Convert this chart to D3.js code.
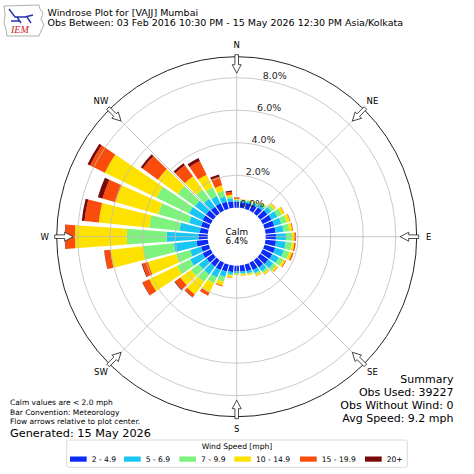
<!DOCTYPE html>
<html>
<head>
<meta charset="utf-8">
<title></title>
<script src="https://cdn.jsdelivr.net/npm/d3@7"></script>
<style>
body{margin:0;background:#fff;}
text{font-family:"DejaVu Sans",sans-serif;fill:#000;}
</style>
</head>
<body>
<script>
// direction bins (degrees, meteorological convention)
const directions=[0,10,20,30,40,50,60,70,80,90,100,110,120,130,140,150,160,170,
  180,190,200,210,220,230,240,250,260,270,280,290,300,310,320,330,340,350];
const speedBins=['2 - 4.9','5 - 6.9','7 - 9.9','10 - 14.9','15 - 19.9','20+'];
const binColors=['#0b2af5','#19c6f3','#7df27d','#fde200','#fa4c0a','#7a0a0a'];

// percent frequency per direction, one array per speed bin
const s2=[.35,.35,.38,.40,.45,.55,.60,.62,.62,.63,.65,.68,.65,.62,.55,.50,.42,.38,.35,.40,.45,.50,.50,.50,.55,.50,.70,.57,.50,.50,.55,.55,.50,.50,.45,.40];
const s5=[.10,.10,.12,.14,.20,.30,.40,.45,.50,.62,.60,.55,.45,.38,.30,.22,.15,.12,.10,.15,.35,.50,.60,.60,.85,.70,1.40,1.95,1.25,.77,.93,.85,.60,.50,.35,.20];
const s7=[.05,.05,.06,.07,.12,.20,.30,.35,.35,.37,.38,.35,.30,.22,.15,.10,.06,.05,.05,.10,.30,.40,.55,.60,.90,.90,1.90,2.46,1.88,1.97,2.22,1.30,.70,.60,.35,.12];
const s10=[.04,.03,.03,.04,.06,.12,.17,.20,.18,.15,.15,.18,.15,.12,.10,.10,.08,.08,.06,.12,.25,.65,.95,.80,1.90,1.80,2.03,3.19,3.12,2.73,3.54,1.50,1.00,.86,.35,.10];
const s15=[.08,.02,.01,0,.01,.02,.03,.04,.05,.09,.08,.08,.05,.03,.02,.02,.01,.01,.01,.02,.05,.20,.20,.40,.45,.35,.37,.60,.88,.83,1.01,1.15,.85,.94,.55,.18];
const s20=[.02,0,0,0,0,0,0,0,0,.01,.01,.01,0,0,0,0,0,0,0,0,0,.01,.03,.05,.03,.05,.02,.03,.17,.30,.17,.15,.15,.20,.15,.08];

const rTicks=[0,2,4,6,8];
const compass=['N','NE','E','SE','S','SW','W','NW'];
const compassDeg=[0,45,90,135,180,225,270,315];
const calmPct='6.4%';

const W=474,H=474;
const cx=236.7,cy=236.7;
const svg=d3.select('body').append('svg').attr('width',W).attr('height',H);

// radial scale: 0% sits on the calm circle
const r=d3.scaleLinear().domain([0,8]).range([29,159]);
const rOuter=180;
const rad=a=>a*Math.PI/180;

// table for stacking
const series=[s2,s5,s7,s10,s15,s20];
const table=directions.map((d,i)=>{
  let row={dir:d};
  speedBins.forEach((b,j)=>row[b]=series[j][i]);
  return row;
});
const stack=d3.stack().keys(speedBins);
const stacked=stack(table);

const g=svg.append('g').attr('transform',`translate(${cx},${cy})`);

// bars
const arc=d3.arc();
const half=4.1;
stacked.forEach((layer,j)=>{
  g.append('g').selectAll('path').data(layer).enter().append('path')
    .attr('d',d=>arc({innerRadius:r(d[0]),outerRadius:r(d[1]),
      startAngle:rad(d.data.dir-half),endAngle:rad(d.data.dir+half)}))
    .attr('fill',binColors[j]);
});

// grid rings (drawn over bars)
g.append('g').selectAll('circle').data(rTicks.slice(1)).enter().append('circle')
  .attr('r',d=>r(d)).attr('fill','none').attr('stroke','#bcbcbc').attr('stroke-width',0.8);

// spokes
g.append('g').selectAll('line').data(compassDeg).enter().append('line')
  .attr('x1',d=>r(0)*Math.sin(rad(d))).attr('y1',d=>-r(0)*Math.cos(rad(d)))
  .attr('x2',d=>rOuter*Math.sin(rad(d))).attr('y2',d=>-rOuter*Math.cos(rad(d)))
  .attr('stroke','#bcbcbc').attr('stroke-width',0.8);

// outer frame
g.append('circle').attr('r',rOuter).attr('fill','none').attr('stroke','#222').attr('stroke-width',1);

// radial labels
g.append('g').selectAll('text').data(rTicks).enter().append('text')
  .attr('x',d=>r(d)*Math.sin(rad(10))+10.5)
  .attr('y',d=>-r(d)*Math.cos(rad(10))-4.5)
  .attr('text-anchor','middle').attr('dominant-baseline','central')
  .style('font-size','9.5px').style('fill','#222')
  .text(d=>d.toFixed(1)+'%');

// flow arrows
const arrow='M-1.8,-182L1.8,-182L1.8,-172L4.5,-172L0,-163.5L-4.5,-172L-1.8,-172Z';
g.append('g').selectAll('path').data(compassDeg).enter().append('path')
  .attr('d',arrow).attr('transform',d=>`rotate(${d})`)
  .attr('fill','#fff').attr('stroke','#222').attr('stroke-width',0.8);

// compass labels
g.append('g').selectAll('text').data(compass).enter().append('text')
  .attr('x',(d,i)=>192*Math.sin(rad(compassDeg[i])))
  .attr('y',(d,i)=>-192*Math.cos(rad(compassDeg[i])))
  .attr('text-anchor','middle').attr('dominant-baseline','central')
  .style('font-size','8.5px').text(d=>d);

// calm
g.append('text').attr('y',-5).attr('text-anchor','middle').attr('dominant-baseline','central')
  .style('font-size','8.8px').text('Calm');
g.append('text').attr('y',4.2).attr('text-anchor','middle').attr('dominant-baseline','central')
  .style('font-size','8.8px').text(calmPct);

// title
svg.append('text').attr('x',47.5).attr('y',15.5).style('font-size','9.5px').text('Windrose Plot for [VAJJ] Mumbai');
svg.append('text').attr('x',47.5).attr('y',25.5).style('font-size','9.5px')
  .text('Obs Between: 03 Feb 2016 10:30 PM - 15 May 2026 12:30 PM Asia/Kolkata');

// logo
const logo=svg.append('g').attr('transform','translate(3,3)');
logo.append('path').attr('d','M1,3L36,2L37,6L40,10L38,16L41,22L38,28L36,33L4,33L3,26L1,20L2,12Z')
  .attr('fill','#fff').attr('stroke','#999').attr('stroke-width',0.8);
logo.append('path').attr('d','M6,6L12,14L22,14L30,12M14,14L18,20M24,14L28,20M8,18L16,18')
  .attr('fill','none').attr('stroke','#2233aa').attr('stroke-width',1.4);
logo.append('text').attr('x',8).attr('y',30).style('font-family','"Liberation Serif",serif')
  .style('font-style','italic').style('font-size','10px').style('fill','#cc2222').text('IEM');

// notes
const notes=['Calm values are < 2.0 mph','Bar Convention: Meteorology','Flow arrows relative to plot center.'];
svg.append('g').selectAll('text').data(notes).enter().append('text')
  .attr('x',10).attr('y',(d,i)=>405+i*9.5).style('font-size','7.5px').text(d=>d);
svg.append('text').attr('x',10).attr('y',436.5).style('font-size','11.3px').text('Generated: 15 May 2026');

// summary
const summary=['Summary','Obs Used: 39227','Obs Without Wind: 0','Avg Speed: 9.2 mph'];
svg.append('g').selectAll('text').data(summary).enter().append('text')
  .attr('x',453.5).attr('y',(d,i)=>383+i*12.9).attr('text-anchor','end')
  .style('font-size','11px').text(d=>d);

// legend
const lg=svg.append('g');
lg.append('rect').attr('x',66.7).attr('y',440).attr('width',340.6).attr('height',27.3).attr('rx',2)
  .attr('fill','#fff').attr('stroke','#d0d0d0').attr('stroke-width',0.8);
lg.append('text').attr('x',237).attr('y',446.5).attr('text-anchor','middle').attr('dominant-baseline','central')
  .style('font-size','7.6px').text('Wind Speed [mph]');
const patchX=[70,124,179.3,234.3,300,365];
speedBins.forEach((b,j)=>{
  lg.append('rect').attr('x',patchX[j]).attr('y',456.5).attr('width',16.7).attr('height',5.2).attr('fill',binColors[j]);
  lg.append('text').attr('x',patchX[j]+21.7).attr('y',459.2).attr('dominant-baseline','central')
    .style('font-size','7.6px').text(b);
});
</script>
</body>
</html>
